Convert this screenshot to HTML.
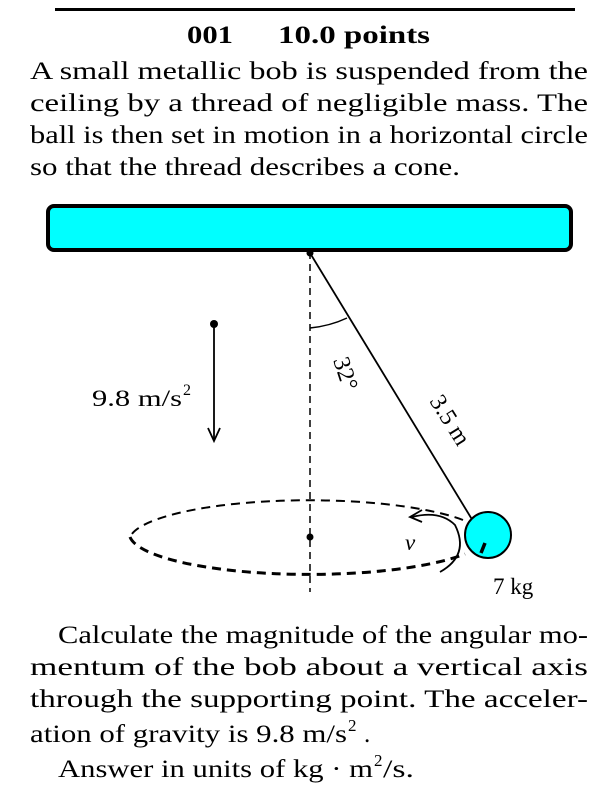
<!DOCTYPE html>
<html><head><meta charset="utf-8"><style>
html,body{margin:0;padding:0;background:#fff;}
body{width:610px;height:795px;position:relative;overflow:hidden;}
svg text{font-family:"Liberation Serif",serif;}
</style></head><body>
<svg width="610" height="795" style="position:absolute;left:0;top:0" xmlns="http://www.w3.org/2000/svg">
<rect x="55" y="8" width="520" height="3" fill="#000"/>
<text x="187" y="43" font-size="25" font-weight="bold" textLength="46" lengthAdjust="spacingAndGlyphs">001</text>
<text x="278" y="43" font-size="25" font-weight="bold" textLength="152" lengthAdjust="spacingAndGlyphs">10.0 points</text>
<g font-size="25">
<text x="30" y="79" textLength="558" lengthAdjust="spacingAndGlyphs">A small metallic bob is suspended from the</text>
<text x="30" y="111" textLength="558" lengthAdjust="spacingAndGlyphs">ceiling by a thread of negligible mass.  The</text>
<text x="30" y="143" textLength="558" lengthAdjust="spacingAndGlyphs">ball is then set in motion in a horizontal circle</text>
<text x="30" y="175" textLength="430" lengthAdjust="spacingAndGlyphs">so that the thread describes a cone.</text>
<text x="58" y="643" textLength="530" lengthAdjust="spacingAndGlyphs">Calculate the magnitude of the angular mo-</text>
<text x="30" y="675" textLength="558" lengthAdjust="spacingAndGlyphs">mentum of the bob about a vertical axis</text>
<text x="30" y="707" textLength="558" lengthAdjust="spacingAndGlyphs">through the supporting point.  The acceler-</text>
<text x="30" y="742" textLength="317" lengthAdjust="spacingAndGlyphs">ation of gravity is 9.8 m/s</text>
<text x="348" y="731" font-size="17">2</text>
<text x="364" y="742">.</text>
<text x="58" y="777" textLength="315" lengthAdjust="spacingAndGlyphs">Answer in units of  kg · m</text>
<text x="374" y="766" font-size="17">2</text>
<text x="383" y="777" textLength="31" lengthAdjust="spacingAndGlyphs">/s.</text>
</g>
<rect x="48" y="206" width="523" height="44" rx="6" fill="#00ffff" stroke="#000" stroke-width="4"/>
<line x1="310" y1="252" x2="310" y2="592" stroke="#000" stroke-width="1.5" stroke-dasharray="7,5"/>
<circle cx="310" cy="253" r="3.5"/>
<circle cx="310" cy="537" r="3.5"/>
<path d="M463 520 A180 41 0 0 0 130 537" fill="none" stroke="#000" stroke-width="2" stroke-dasharray="9,6"/>
<path d="M130 537 A180 41 0 0 0 465 554" fill="none" stroke="#000" stroke-width="3" stroke-dasharray="9,6"/>
<line x1="310" y1="253" x2="476" y2="526" stroke="#000" stroke-width="1.8"/>
<path d="M310 328 Q330 326 347 318" fill="none" stroke="#000" stroke-width="1.5"/>
<circle cx="488" cy="535" r="23" fill="#00ffff" stroke="#000" stroke-width="2"/>
<line x1="485" y1="543" x2="481" y2="553" stroke="#000" stroke-width="3.5"/>
<circle cx="214" cy="324" r="4"/>
<line x1="214" y1="324" x2="214" y2="440" stroke="#000" stroke-width="1.8"/>
<path d="M208 428 L214 441 L220 428" fill="none" stroke="#000" stroke-width="1.8"/>
<path d="M440 572 Q470 555 455 525 Q440 510 412 517" fill="none" stroke="#000" stroke-width="1.8"/>
<path d="M422 510 L410 517 L422 522" fill="none" stroke="#000" stroke-width="1.8"/>
<text x="92" y="406" font-size="23" textLength="90" lengthAdjust="spacingAndGlyphs">9.8 m/s</text>
<text x="183" y="395" font-size="16">2</text>
<text transform="translate(333,360) rotate(72)" font-size="24">32°</text>
<text transform="translate(429,401) rotate(58)" font-size="24">3.5 m</text>
<text x="405" y="550" font-style="italic" font-size="23">v</text>
<text x="493" y="594" font-size="23">7 kg</text>
</svg>
</body></html>
